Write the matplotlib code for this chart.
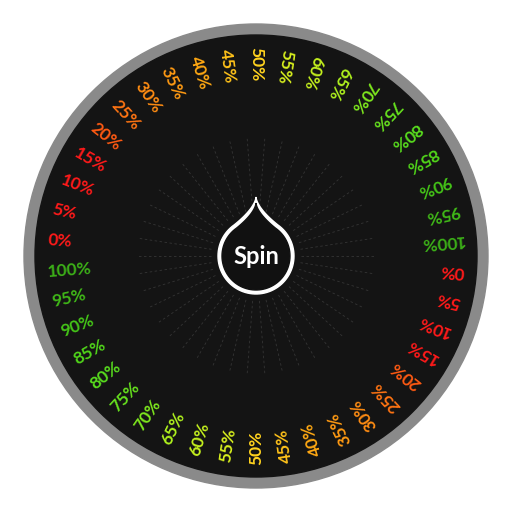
import numpy as np
import matplotlib.pyplot as plt
from matplotlib.patches import Circle, Polygon

# one lap of the wheel, clockwise from the top; the wheel shows it twice
values = [50, 55, 60, 65, 70, 75, 80, 85, 90, 95, 100,
          0, 5, 10, 15, 20, 25, 30, 35, 40, 45]
value_colors = {
    0: '#ff1a1a', 5: '#ff1a1a', 10: '#ff1a1a', 15: '#ff1a1a',
    20: '#ff5a12', 25: '#ff7412', 30: '#ff8c12', 35: '#ff9a12', 40: '#ffa812',
    45: '#ffc21a', 50: '#ffd21e', 55: '#d8f01e', 60: '#c4f01e', 65: '#aef01e',
    70: '#7ee81e', 75: '#66e01e', 80: '#58dc1e', 85: '#50d41a',
    90: '#44c418', 95: '#40b818', 100: '#3cb018',
}
labels = values * 2
n = len(labels)

fig = plt.figure(figsize=(5.12, 5.12), dpi=100)
fig.patch.set_alpha(0)
ax = fig.add_axes([0, 0, 1, 1])
ax.set_xlim(-256, 256)
ax.set_ylim(-256, 256)
ax.set_aspect('equal')
ax.axis('off')

# rim and face
ax.add_patch(Circle((0, 0), 232, color='#8a8a8a', zorder=1))
ax.add_patch(Circle((0, 0), 221, color='#141414', zorder=2))

# faint separators near the hub
step = 360 / n
for i in range(n):
    a = np.deg2rad(90 - (i + 0.5) * step)
    ax.plot([45 * np.cos(a), 120 * np.cos(a)], [45 * np.sin(a), 120 * np.sin(a)],
            color='#555555', lw=0.6, ls=(0, (3, 3)), alpha=0.5, zorder=3)

# labels, reading from the rim inward
for i, v in enumerate(labels):
    a = 90 - i * step
    r = 209
    x, y = r * np.cos(np.deg2rad(a)), r * np.sin(np.deg2rad(a))
    ax.text(x, y, f'{v}%', rotation=a + 180, rotation_mode='anchor',
            ha='left', va='center', fontsize=12.5, fontweight='bold',
            family='Lato', color=value_colors[v], zorder=4)


def drop(radius, tip):
    pts = []
    for t in np.linspace(np.deg2rad(125), np.deg2rad(415), 80):
        pts.append((radius * np.cos(t), radius * np.sin(t)))
    # concave side up to the tip
    x0, y0 = radius * np.cos(np.deg2rad(55)), radius * np.sin(np.deg2rad(55))
    for s in np.linspace(0, 1, 20):
        pts.append((x0 * (1 - s) ** 1.6, y0 + (tip - y0) * s))
    x1 = -x0
    for s in np.linspace(1, 0, 20):
        pts.append((x1 * (1 - s) ** 1.6, y0 + (tip - y0) * s))
    return np.array(pts)


ax.add_patch(Polygon(drop(38, 59), closed=True, color='white', zorder=5))
ax.add_patch(Polygon(drop(34, 53), closed=True, color='#111111', zorder=6))
ax.text(0, -1, 'Spin', ha='center', va='center', fontsize=17, fontweight='bold',
        family='Lato', color='white', zorder=7)

fig.savefig('out.png', dpi=100, transparent=True)
